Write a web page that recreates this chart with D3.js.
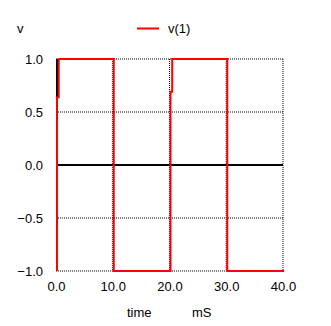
<!DOCTYPE html>
<html>
<head>
<meta charset="utf-8">
<script src="https://cdn.jsdelivr.net/npm/d3@7"></script>
<style>
  body { margin: 0; background: #fff; }
  text { font-family: "Liberation Sans", Arial, sans-serif; font-size: 13px; fill: #000; }
</style>
</head>
<body>
<div id="chart"></div>
<script>
// waveform samples: time in mS, voltage
var timeValues = [0, 0, 0.3, 0.3, 10, 10, 20, 20, 20.3, 20.3, 30, 30, 40];
var voltValues = [-1, 0.64, 0.64, 1, 1, -1, -1, 0.69, 0.69, 1, 1, -1, -1];
var xTicks = [0, 10, 20, 30, 40];
var yTicks = [-1, -0.5, 0, 0.5, 1];
var seriesName = "v(1)";

var width = 331, height = 326;
var margin = {top: 59, right: 48, bottom: 55, left: 56};
var w = width - margin.left - margin.right,
    h = height - margin.top - margin.bottom;

var svg = d3.select("#chart").append("svg")
    .attr("width", width)
    .attr("height", height);

var g = svg.append("g")
    .attr("transform", "translate(" + margin.left + "," + margin.top + ")");

var x = d3.scaleLinear().domain([0, 40]).range([0, w]);
var y = d3.scaleLinear().domain([-1, 1]).range([h, 0]);

// dotted grid (including top, bottom and right borders)
g.selectAll(".hgrid")
  .data(yTicks.filter(d => d !== 0))
  .enter().append("line")
    .attr("x1", 0).attr("x2", w)
    .attr("y1", d => y(d)).attr("y2", d => y(d))
    .attr("stroke", "#000").attr("stroke-width", 1)
    .attr("stroke-dasharray", "1,1");

g.selectAll(".vgrid")
  .data(xTicks.filter(d => d !== 0))
  .enter().append("line")
    .attr("x1", d => x(d)).attr("x2", d => x(d))
    .attr("y1", 0).attr("y2", h)
    .attr("stroke", "#000").attr("stroke-width", 1)
    .attr("stroke-dasharray", "1,1");

// solid zero line and left border
g.append("line")
  .attr("x1", 0).attr("x2", w)
  .attr("y1", y(0)).attr("y2", y(0))
  .attr("stroke", "#000").attr("stroke-width", 2);

g.append("line")
  .attr("x1", x(0) + 1).attr("x2", x(0) + 1)
  .attr("y1", 0).attr("y2", h)
  .attr("stroke", "#000").attr("stroke-width", 2);

// axes labels
var xAxis = d3.axisBottom(x).tickValues(xTicks).tickSize(0).tickPadding(11)
    .tickFormat(d3.format(".1f"));
var yAxis = d3.axisLeft(y).tickValues(yTicks).tickSize(0).tickPadding(13)
    .tickFormat(d3.format(".1f"));

g.append("g")
  .attr("transform", "translate(0," + h + ")")
  .call(xAxis)
  .call(a => a.select(".domain").remove())
  .selectAll("text").style("font-size", "13px").attr("fill", "#000");

g.append("g")
  .call(yAxis)
  .call(a => a.select(".domain").remove())
  .selectAll("text").style("font-size", "13px").attr("fill", "#000");

// data line
var data = timeValues.map((t, i) => ({t: t, v: voltValues[i]}));
var line = d3.line()
    .x(d => x(d.t) + 1)
    .y(d => y(d.v));

g.append("path")
  .datum(data)
  .attr("fill", "none")
  .attr("stroke", "#ff0000")
  .attr("stroke-width", 2)
  .attr("d", line);

// titles / legend
svg.append("text").attr("x", 17).attr("y", 33).text("v");

svg.append("line")
  .attr("x1", 137).attr("x2", 159)
  .attr("y1", 28.5).attr("y2", 28.5)
  .attr("stroke", "#ff0000").attr("stroke-width", 2);
svg.append("text").attr("x", 168).attr("y", 33).text(seriesName);

svg.append("text").attr("x", 127).attr("y", 317).text("time");
svg.append("text").attr("x", 192).attr("y", 317).text("mS");
</script>
</body>
</html>
